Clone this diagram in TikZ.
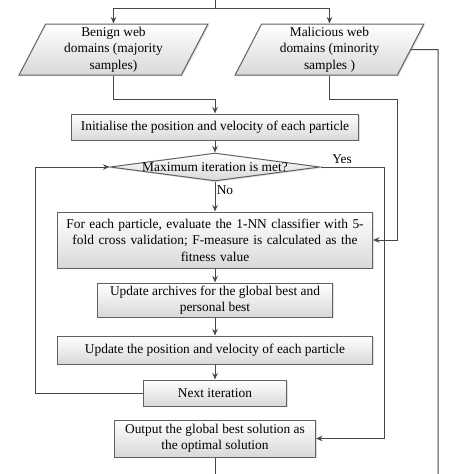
\documentclass[tikz,border=0pt]{standalone}
\usepackage{fontspec}
\setmainfont{Liberation Serif}
\usetikzlibrary{shapes.geometric,arrows.meta,shadows}
\begin{document}
\begin{tikzpicture}[x=1pt,y=-1pt,
  font=\fontsize{13.4}{16.4}\selectfont,
  boxfill/.style={draw=black!62, line width=1pt, top color=white, bottom color=black!15,
     drop shadow={shadow xshift=1.2pt, shadow yshift=-1.2pt, opacity=0.25}},
  procbox/.style={boxfill, rectangle, align=center, inner sep=1pt},
  iobox/.style={boxfill, trapezium, trapezium left angle=66.7, trapezium right angle=113.3,
     trapezium stretches=true, minimum width=189pt, minimum height=51pt, align=center, inner sep=0pt},
  link/.style={draw=black!72, line width=1pt},
  arr/.style={link, -{Stealth[length=6.5pt,width=5.5pt]}},
  lbl/.style={inner sep=1pt}
]
\useasboundingbox (0,0) rectangle (474,474);
% nodes
\node[iobox] (benign) at (113.5,49.5) {Benign web\\domains (majority\\samples)};
\node[iobox] (mal) at (329.5,49.5) {Malicious web\\domains (minority\\samples )};
\node[procbox, minimum width=287pt, minimum height=26pt] (init) at (215,127) {Initialise the position and velocity of each particle};
\node[boxfill, diamond, minimum width=210pt, minimum height=28pt, inner sep=0pt] (dec) at (215,167) {};
\node[lbl] (dectext) at (dec.center) {Maximum iteration is met?};
\node[procbox, minimum width=315pt, minimum height=56pt, text width=305pt] (each) at (215,240) {For each particle, evaluate the 1-NN classifier with 5-\\fold cross validation; F-measure is calculated as the\\fitness value};
\node[procbox, minimum width=235pt, minimum height=34pt] (arch) at (215,300) {Update archives for the global best and\\personal best};
\node[procbox, minimum width=315pt, minimum height=28pt] (upd) at (215,350) {Update the position and velocity of each particle};
\node[procbox, minimum width=143pt, minimum height=26pt] (next) at (215,393) {Next iteration};
\node[procbox, minimum width=201pt, minimum height=37pt] (out) at (215,438.5) {Output the global best solution as\\the optimal solution};
\node[lbl] (yes) at (342,159) {Yes};
\node[lbl] (no) at (225,190) {No};
% coordinates
\coordinate (top) at (215,0);
\coordinate (split) at (215,8);
\coordinate (join) at (215,99);
\coordinate (malbend) at (397,99);
\coordinate (yesx) at (384,167);
\coordinate (loopx) at (35,393);
\coordinate (farright) at (438,49.5);
\coordinate (farbottom) at (438,474);
\coordinate (outbottom) at (215,474);
% connectors
\draw[link] (top) -- (split);
\draw[arr] (split) -| (benign.center |- benign.north);
\draw[arr] (split) -| (mal.center |- mal.north);
\draw[link] (benign.center |- benign.south) |- (join);
\draw[arr] (join) -- (init.north);
\draw[arr] (mal.center |- mal.south) |- (malbend) |- (each.east);
\draw[link] (mal.east) -- (farright) -- (farbottom);
\draw[arr] (init.south) -- (dec.north);
\draw[arr] (dec.south) -- (each.north);
\draw[arr] (dec.east) -- (yesx) |- (out.east);
\draw[arr] (each.south) -- (arch.north);
\draw[arr] (arch.south) -- (upd.north);
\draw[arr] (upd.south) -- (next.north);
\draw[arr] (next.west) -- (loopx) |- (dec.west);
\draw[link] (out.south) -- (outbottom);
\end{tikzpicture}
\end{document}
